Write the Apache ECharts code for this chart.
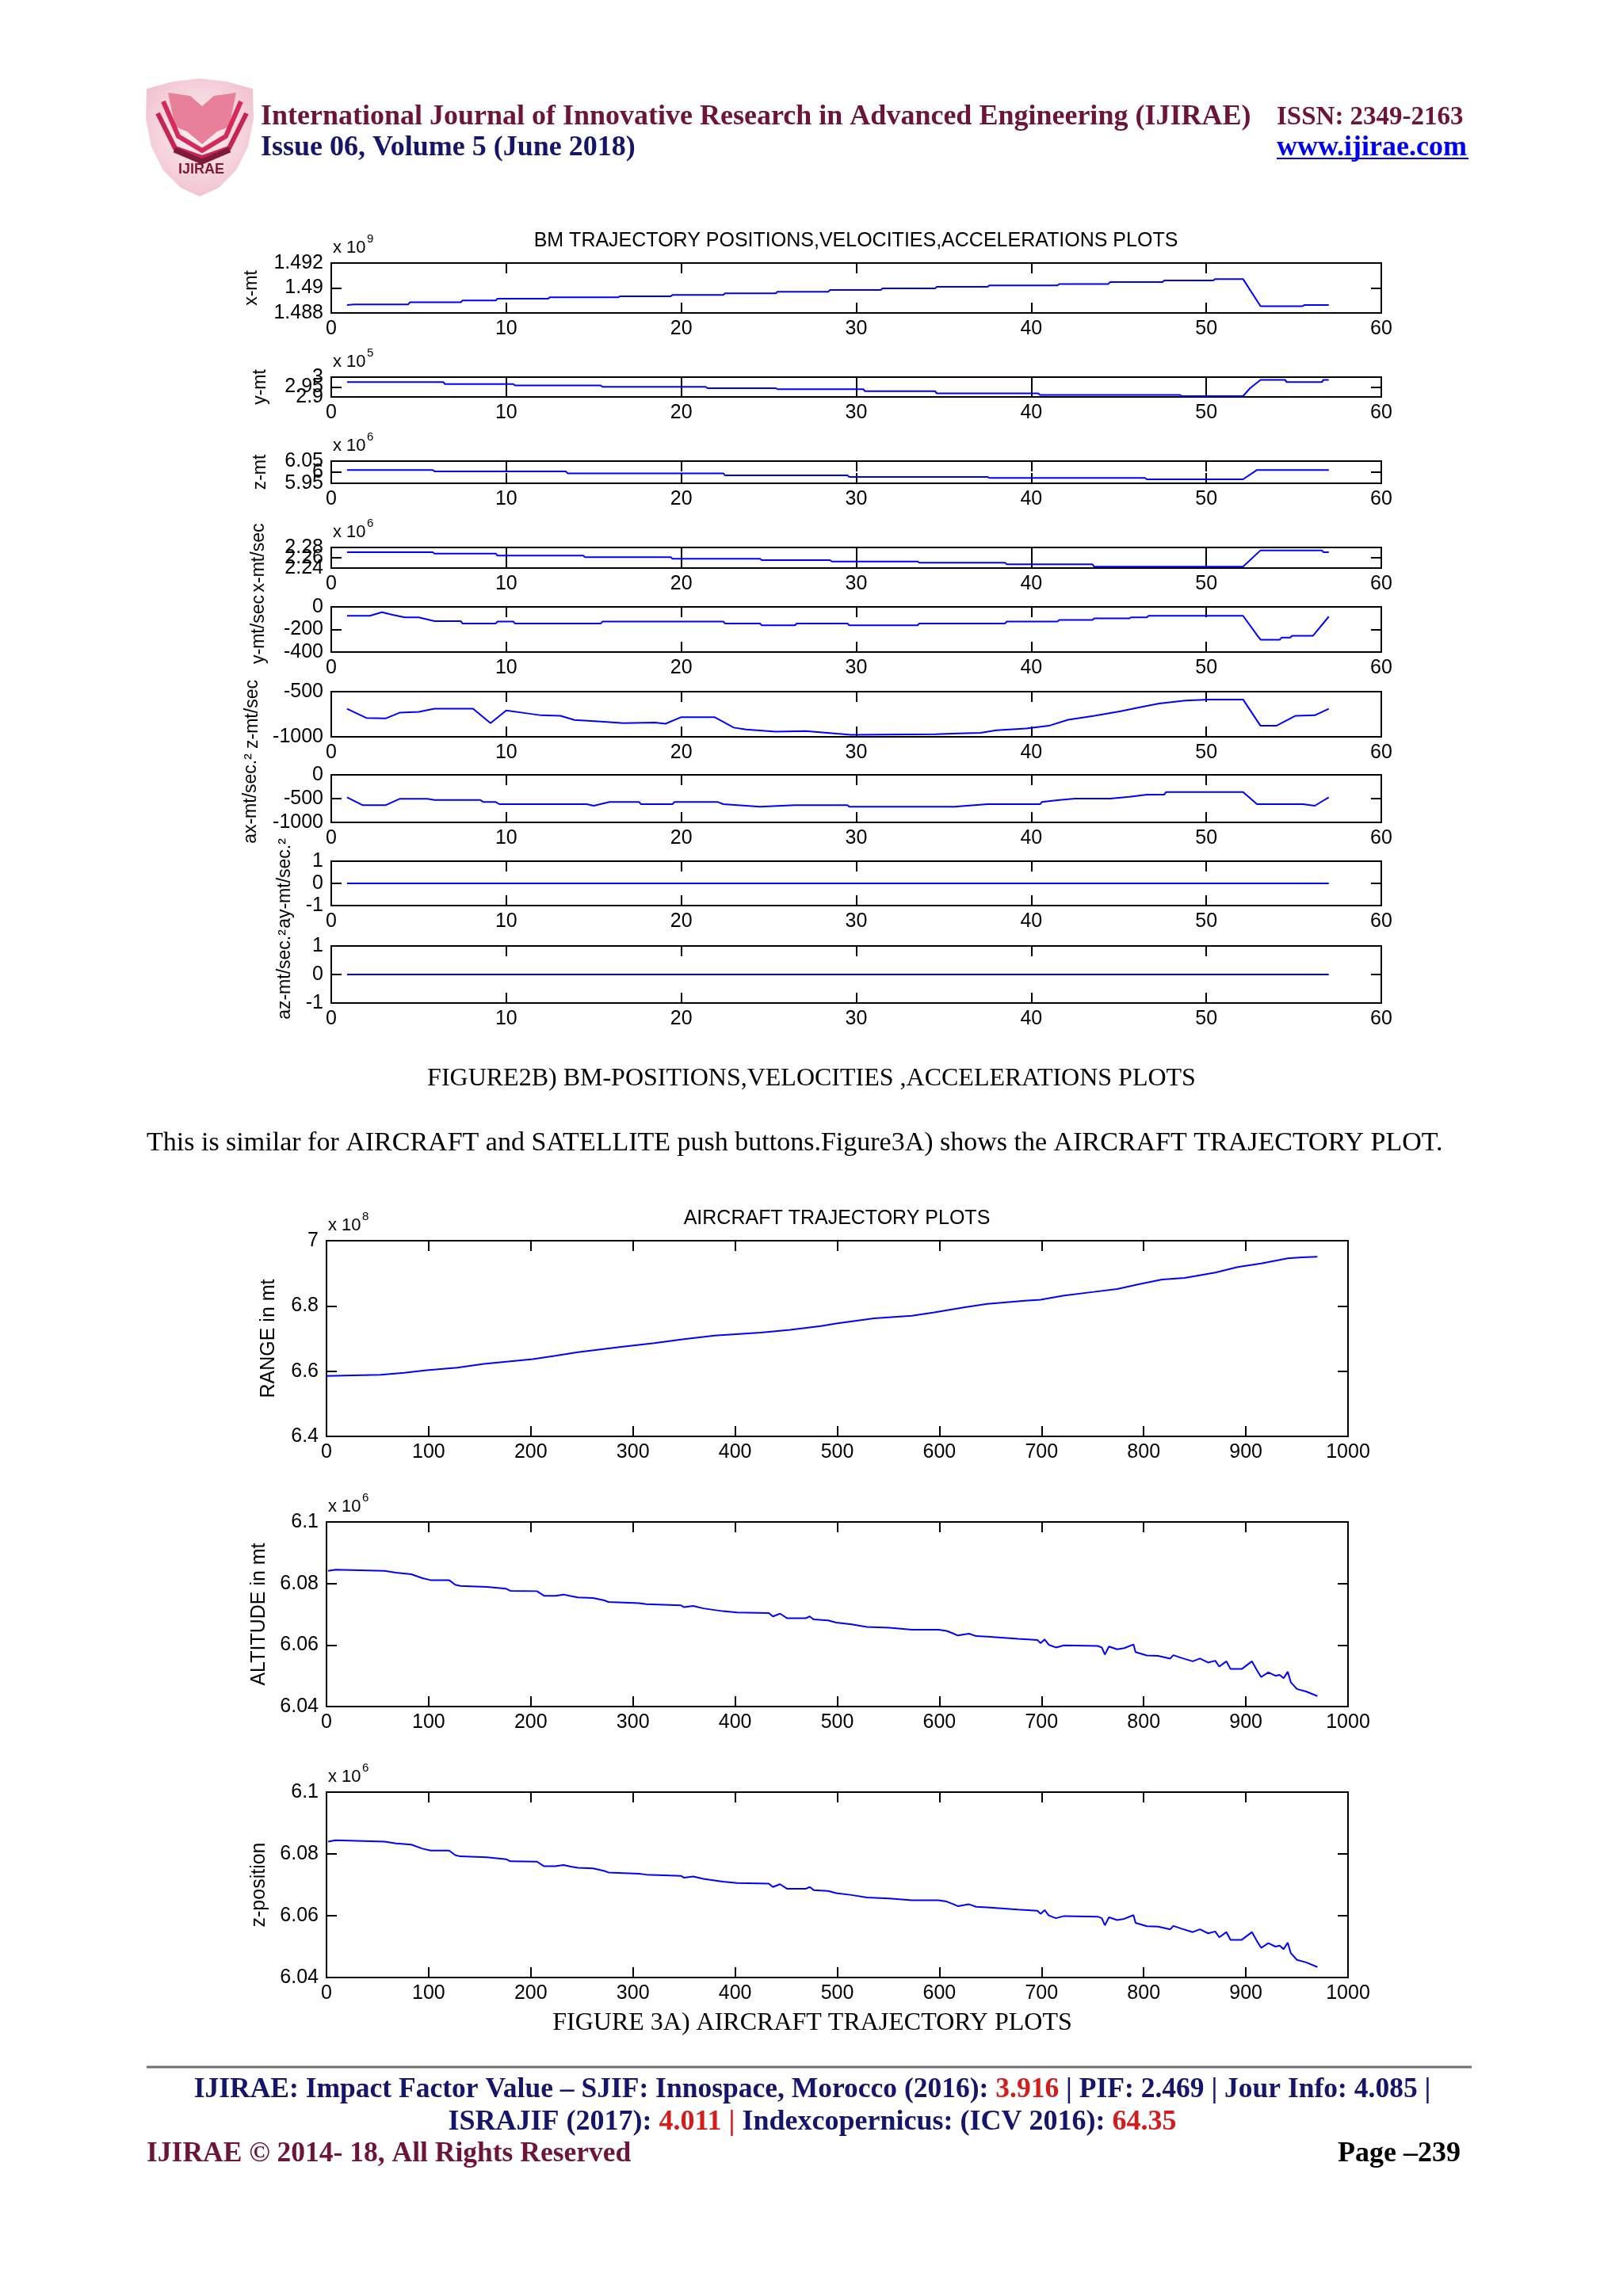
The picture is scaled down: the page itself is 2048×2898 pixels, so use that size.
<!DOCTYPE html>
<html><head><meta charset="utf-8">
<script src="https://cdn.jsdelivr.net/npm/echarts@6/dist/echarts.min.js"></script>
<style>html,body{margin:0;padding:0;background:#fff}#c{width:2048px;height:2898px}</style>
</head><body><div id="c"></div>
<script>
// ---------------- DATA ----------------
const bmTimeTicks = [0, 10, 20, 30, 40, 50, 60];
const xPosTicks = [1.488, 1.49, 1.492];      // x 10^9
const yPosTicks = [2.9, 2.95, 3];            // x 10^5
const zPosTicks = [5.95, 6, 6.05];           // x 10^6
const vxTicks = [2.24, 2.26, 2.28];          // x 10^6
const vyTicks = [-400, -200, 0];
const vzTicks = [-1000, -500];
const axTicks = [-1000, -500, 0];
const ayTicks = [-1, 0, 1];
const azTicks = [-1, 0, 1];

const bmXPos = [[0.9,1.48863],[1.3,1.48869],[4.4,1.48869],[4.5,1.48886],[7.4,1.48886],[7.5,1.48900],[9.4,1.48900],[9.5,1.48915],[12.4,1.48915],[12.5,1.48926],[16.4,1.48926],[16.5,1.48934],[19.4,1.48934],[19.5,1.48944],[22.4,1.48944],[22.5,1.48957],[25.4,1.48957],[25.5,1.48970],[28.4,1.48970],[28.5,1.48984],[31.4,1.48984],[31.5,1.48997],[34.5,1.48997],[34.6,1.49009],[37.5,1.49009],[37.6,1.49020],[41.5,1.49020],[41.6,1.49032],[44.4,1.49032],[44.5,1.49047],[47.5,1.49047],[47.6,1.49060],[50.4,1.49060],[50.5,1.49072],[52.1,1.49072],[53.1,1.48854],[55.5,1.48854],[55.6,1.48863],[57.0,1.48863]];
const bmYPos = [[0.9,2.975],[6.4,2.975],[6.5,2.965],[10.4,2.965],[10.5,2.958],[15.4,2.958],[15.5,2.951],[21.4,2.951],[21.5,2.944],[25.4,2.944],[25.5,2.939],[30.4,2.939],[30.5,2.929],[34.5,2.929],[34.6,2.918],[40.4,2.918],[40.5,2.910],[48.5,2.910],[48.6,2.904],[52.1,2.904],[52.5,2.944],[53.1,2.986],[54.5,2.986],[54.6,2.975],[56.6,2.975],[56.7,2.986],[57.0,2.986]];
const bmZPos = [[0.9,6.010],[5.8,6.010],[5.9,6.004],[13.4,6.004],[13.5,5.995],[22.4,5.995],[22.5,5.986],[29.5,5.986],[29.6,5.979],[37.5,5.979],[37.6,5.974],[46.5,5.974],[46.6,5.968],[52.1,5.968],[52.9,6.010],[57.0,6.010]];
const bmVx = [[0.9,2.2708],[5.8,2.2708],[5.9,2.2682],[9.4,2.2682],[9.5,2.2641],[14.4,2.2641],[14.5,2.2610],[19.4,2.2610],[19.5,2.2579],[24.5,2.2579],[24.6,2.2554],[28.5,2.2554],[28.6,2.2528],[33.5,2.2528],[33.6,2.2503],[38.5,2.2503],[38.6,2.2472],[43.5,2.2472],[43.6,2.2426],[52.1,2.2426],[53.1,2.2744],[56.6,2.2744],[56.7,2.2708],[57.0,2.2708]];
const bmVy = [[0.9,-79],[2.2,-79],[2.9,-47],[3.5,-70],[4.2,-93],[5.0,-93],[5.9,-126],[7.4,-126],[7.5,-147],[9.4,-147],[9.5,-130],[10.4,-130],[10.5,-147],[15.4,-147],[15.5,-130],[22.4,-130],[22.5,-147],[24.5,-147],[24.6,-163],[26.5,-163],[26.6,-147],[29.5,-147],[29.6,-163],[33.5,-163],[33.6,-147],[38.5,-147],[38.6,-130],[41.5,-130],[41.6,-116],[43.5,-116],[43.6,-102],[45.6,-102],[45.7,-93],[46.6,-93],[46.7,-79],[52.1,-79],[52.9,-250],[53.1,-291],[54.2,-291],[54.3,-272],[54.8,-272],[54.9,-256],[56.1,-256],[57.0,-86]];
const bmVz = [[0.9,-689],[2.0,-791],[3.1,-797],[3.9,-733],[5.0,-724],[5.9,-689],[8.1,-689],[9.1,-849],[10.0,-709],[11.1,-738],[12.0,-762],[13.1,-767],[13.9,-814],[15.4,-831],[16.7,-849],[18.5,-843],[19.1,-855],[20.0,-782],[21.9,-782],[23.0,-898],[23.7,-919],[25.4,-942],[27.1,-936],[28.9,-965],[29.7,-977],[34.5,-971],[35.8,-962],[37.1,-956],[38.0,-927],[39.7,-907],[41.0,-878],[42.1,-811],[43.6,-767],[45.1,-718],[46.2,-674],[47.3,-631],[48.8,-599],[50.1,-587],[52.1,-587],[53.1,-878],[54.0,-878],[55.1,-767],[56.2,-762],[57.0,-689]];
const bmAx = [[0.9,-472],[1.8,-639],[3.1,-639],[3.9,-506],[5.5,-506],[5.9,-528],[8.5,-528],[8.7,-572],[9.4,-572],[9.6,-617],[14.6,-617],[15.0,-650],[15.9,-572],[17.6,-572],[17.7,-617],[19.5,-617],[19.6,-572],[22.1,-572],[22.4,-617],[24.5,-672],[26.5,-639],[29.5,-639],[29.6,-672],[35.6,-672],[37.5,-617],[40.5,-617],[40.6,-572],[41.6,-528],[42.5,-500],[44.5,-500],[45.6,-461],[46.6,-417],[47.6,-417],[47.7,-361],[52.1,-361],[52.9,-617],[55.5,-617],[56.2,-650],[57.0,-472]];
const bmAy = [[0.9,0],[57.0,0]];
const bmAz = [[0.9,0],[57.0,0]];

const acTimeTicks = [0,100,200,300,400,500,600,700,800,900,1000];
const rangeTicks = [6.4, 6.6, 6.8, 7];       // x 10^8
const altTicks = [6.04, 6.06, 6.08, 6.1];    // x 10^6
const acRange = [[0,6.585],[53,6.589],[76,6.595],[98,6.603],[128,6.611],[154,6.622],[202,6.637],[224,6.647],[246,6.658],[287,6.674],[321,6.686],[350,6.698],[380,6.709],[425,6.718],[454,6.727],[484,6.738],[499,6.746],[536,6.762],[573,6.770],[595,6.780],[625,6.796],[647,6.806],[684,6.816],[699,6.819],[722,6.832],[751,6.843],[774,6.852],[796,6.867],[818,6.881],[840,6.886],[870,6.902],[892,6.919],[915,6.930],[941,6.946],[955,6.949],[970,6.951]];
const acAltitude = [[1.5,6.0841],[9,6.0845],[57,6.0841],[68,6.0835],[83,6.0830],[94,6.0817],[102,6.0811],[120,6.0811],[126,6.0796],[131,6.0792],[157,6.0789],[176,6.0783],[180,6.0776],[206,6.0775],[213,6.0760],[224,6.0760],[232,6.0764],[239,6.0759],[246,6.0755],[261,6.0753],[272,6.0745],[276,6.0740],[306,6.0736],[313,6.0733],[347,6.0729],[350,6.0723],[359,6.0727],[369,6.0719],[388,6.0710],[402,6.0706],[433,6.0704],[437,6.0693],[444,6.0702],[445,6.0703],[451,6.0687],[469,6.0687],[473,6.0693],[477,6.0683],[491,6.0680],[499,6.0673],[514,6.0667],[529,6.0659],[551,6.0656],[573,6.0650],[599,6.0650],[607,6.0646],[614,6.0637],[618,6.0631],[629,6.0637],[636,6.0629],[647,6.0627],[677,6.0620],[696,6.0616],[699,6.0606],[703,6.0618],[707,6.0601],[714,6.0592],[722,6.0599],[755,6.0597],[759,6.0592],[762,6.0569],[766,6.0595],[774,6.0586],[781,6.0590],[790,6.0602],[792,6.0577],[803,6.0566],[814,6.0565],[826,6.0556],[829,6.0567],[837,6.0558],[848,6.0547],[855,6.0556],[863,6.0543],[870,6.0549],[874,6.0530],[881,6.0547],[885,6.0522],[896,6.0522],[906,6.0547],[911,6.0517],[915,6.0496],[922,6.0511],[929,6.0500],[933,6.0503],[937,6.0492],[941,6.0513],[944,6.0479],[950,6.0457],[959,6.0449],[970,6.0434]];
const acZPosition = [[1.5,6.0840],[9,6.0844],[57,6.0840],[68,6.0834],[83,6.0830],[94,6.0817],[102,6.0811],[120,6.0811],[126,6.0796],[131,6.0792],[157,6.0789],[176,6.0783],[180,6.0776],[206,6.0775],[213,6.0760],[224,6.0760],[232,6.0764],[239,6.0759],[246,6.0755],[261,6.0753],[272,6.0745],[276,6.0740],[306,6.0736],[313,6.0733],[347,6.0729],[350,6.0723],[359,6.0727],[369,6.0719],[388,6.0710],[402,6.0706],[433,6.0704],[437,6.0693],[444,6.0702],[445,6.0703],[451,6.0687],[469,6.0687],[473,6.0693],[477,6.0683],[491,6.0680],[499,6.0673],[514,6.0667],[529,6.0659],[551,6.0656],[573,6.0650],[599,6.0650],[607,6.0646],[614,6.0637],[618,6.0631],[629,6.0637],[636,6.0629],[647,6.0627],[677,6.0620],[696,6.0616],[699,6.0606],[703,6.0618],[707,6.0601],[714,6.0592],[722,6.0599],[755,6.0597],[759,6.0592],[762,6.0569],[766,6.0595],[774,6.0586],[781,6.0590],[790,6.0602],[792,6.0577],[803,6.0566],[814,6.0565],[826,6.0556],[829,6.0567],[837,6.0558],[848,6.0547],[855,6.0556],[863,6.0543],[870,6.0549],[874,6.0530],[881,6.0547],[885,6.0522],[896,6.0522],[906,6.0547],[911,6.0517],[915,6.0496],[922,6.0511],[929,6.0500],[933,6.0503],[937,6.0492],[941,6.0513],[944,6.0479],[950,6.0457],[959,6.0449],[970,6.0434]];

// ---------------- LAYOUT ----------------
const BM_L = 418, BM_W = 1325, AC_L = 412, AC_W = 1289;
const panels = [
  {l:BM_L,w:BM_W,top:332,h:63,xt:bmTimeTicks,yt:xPosTicks,data:bmXPos,name:'x-mt',gap:89,exp:'9',nfs:23},
  {l:BM_L,w:BM_W,top:476,h:25,xt:bmTimeTicks,yt:yPosTicks,data:bmYPos,name:'y-mt',gap:78,exp:'5',nfs:23},
  {l:BM_L,w:BM_W,top:582,h:28,xt:bmTimeTicks,yt:zPosTicks,data:bmZPos,name:'z-mt',gap:78,exp:'6',nfs:23},
  {l:BM_L,w:BM_W,top:691,h:26,xt:bmTimeTicks,yt:vxTicks,data:bmVx,name:'x-mt/sec',gap:80,exp:'6',nfs:23},
  {l:BM_L,w:BM_W,top:766,h:57,xt:bmTimeTicks,yt:vyTicks,data:bmVy,name:'y-mt/sec',gap:80,nfs:23},
  {l:BM_L,w:BM_W,top:873,h:57,xt:bmTimeTicks,yt:vzTicks,data:bmVz,name:'z-mt/sec',gap:88,nfs:23},
  {l:BM_L,w:BM_W,top:978,h:60,xt:bmTimeTicks,yt:axTicks,data:bmAx,name:'ax-mt/sec.²',gap:90,nfs:23},
  {l:BM_L,w:BM_W,top:1087,h:56,xt:bmTimeTicks,yt:ayTicks,data:bmAy,name:'ay-mt/sec.²',gap:47,nfs:23},
  {l:BM_L,w:BM_W,top:1194,h:72,xt:bmTimeTicks,yt:azTicks,data:bmAz,name:'az-mt/sec.²',gap:47,nfs:23},
  {l:AC_L,w:AC_W,top:1566,h:247,xt:acTimeTicks,yt:rangeTicks,data:acRange,name:'RANGE in mt',gap:60,exp:'8',nfs:25},
  {l:AC_L,w:AC_W,top:1921,h:233,xt:acTimeTicks,yt:altTicks,data:acAltitude,name:'ALTITUDE in mt',gap:72,exp:'6',nfs:25},
  {l:AC_L,w:AC_W,top:2262,h:234,xt:acTimeTicks,yt:altTicks,data:acZPosition,name:'z-position',gap:72,exp:'6',nfs:25}
];

const SANS = '"Liberation Sans", Arial, sans-serif';
const SERIF = '"Liberation Serif", "Times New Roman", serif';
const fmt = v => String(+(+v).toFixed(6));
const step = t => +(t[1] - t[0]).toFixed(8);
const near = (a, b) => Math.abs(a - b) < 1e-9;

const grid = [], xAxis = [], yAxis = [], series = [], graphic = [];
const tick = {show:true, inside:true, length:13, lineStyle:{color:'#000', width:2}};
const lblBase = {show:true, color:'#000', fontSize:25, fontFamily:SANS, hideOverlap:false};
panels.forEach((p, i) => {
  grid.push({left:p.l, top:p.top, width:p.w, height:p.h, show:true, borderColor:'#000', borderWidth:2, backgroundColor:'rgba(0,0,0,0)'});
  const ymin = p.yt[0], ymax = p.yt[p.yt.length-1];
  const xb = {type:'value', gridIndex:i, min:p.xt[0], max:p.xt[p.xt.length-1], interval:step(p.xt),
    splitLine:{show:false}, axisLine:{show:false, onZero:false}, axisTick:tick};
  const yb = {type:'value', gridIndex:i, min:ymin, max:ymax, interval:step(p.yt),
    splitLine:{show:false}, axisLine:{show:false, onZero:false}, axisTick:tick};
  xAxis.push(Object.assign({}, xb, {position:'bottom', axisLabel:Object.assign({}, lblBase, {margin:8, formatter:fmt, showMinLabel:true, showMaxLabel:true})}));
  xAxis.push(Object.assign({}, xb, {position:'top', axisLabel:{show:false}}));
  // main left axis: end labels + name
  yAxis.push(Object.assign({}, yb, {position:'left', name:p.name, nameLocation:'middle', nameGap:p.gap, nameRotate:90,
    nameTextStyle:{color:'#000', fontSize:p.nfs, fontFamily:SANS},
    axisLabel:Object.assign({}, lblBase, {margin:10, showMinLabel:true, showMaxLabel:true,
      formatter: v => (near(v, ymin) || near(v, ymax)) ? fmt(v) : ''})}));
  yAxis.push(Object.assign({}, yb, {position:'right', axisLabel:{show:false}}));
  // second left axis: inner labels only (MATLAB draws overlapping labels too)
  yAxis.push(Object.assign({}, yb, {position:'left', axisTick:{show:false},
    axisLabel:Object.assign({}, lblBase, {margin:10, showMinLabel:false, showMaxLabel:false, formatter:fmt})}));
  series.push({type:'line', xAxisIndex:2*i, yAxisIndex:3*i, data:p.data, showSymbol:false, symbol:'none',
    lineStyle:{color:'#0000ff', width:2}, silent:true, animation:false, clip:true});
  if (p.exp) {
    graphic.push({type:'text', x:p.l+2, y:p.top-19, z:100, silent:true,
      style:{text:'x 10', fill:'#000', font:'22px '+SANS, textAlign:'left', align:'left', textVerticalAlign:'middle', verticalAlign:'middle'}});
    graphic.push({type:'text', x:p.l+45, y:p.top-30, z:100, silent:true,
      style:{text:p.exp, fill:'#000', font:'15px '+SANS, textAlign:'left', align:'left', textVerticalAlign:'middle', verticalAlign:'middle'}});
  }
});

function T(x, y, text, font, fill, align, extra) {
  return {type:'text', x:x, y:y, z:100, silent:true,
    style:Object.assign({text:text, font:font, fill:fill, textAlign:align||'left', align:align||'left',
      textVerticalAlign:'middle', verticalAlign:'middle'}, extra||{})};
}

// plot titles and captions
graphic.push(T(1080, 304, 'BM TRAJECTORY POSITIONS,VELOCITIES,ACCELERATIONS PLOTS', '25px '+SANS, '#000', 'center'));
graphic.push(T(1056, 1538, 'AIRCRAFT TRAJECTORY PLOTS', '25px '+SANS, '#000', 'center'));
graphic.push(T(1024, 1362, 'FIGURE2B) BM-POSITIONS,VELOCITIES ,ACCELERATIONS PLOTS', '32px '+SERIF, '#000', 'center'));
graphic.push(T(185, 1443, 'This is similar for AIRCRAFT and SATELLITE push buttons.Figure3A) shows the AIRCRAFT TRAJECTORY PLOT.', '34px '+SERIF, '#000', 'left'));
graphic.push(T(1025, 2554, 'FIGURE 3A) AIRCRAFT TRAJECTORY PLOTS', '32px '+SERIF, '#000', 'center'));

// header
const MAROON = '#6c1538', NAVY = '#15166b';
graphic.push(T(329, 148, 'International Journal of Innovative Research in Advanced Engineering (IJIRAE)', 'bold 36px '+SERIF, MAROON, 'left'));
graphic.push(T(1611, 148, 'ISSN: 2349-2163', 'bold 33px '+SERIF, MAROON, 'left'));
graphic.push(T(329, 187, 'Issue 06, Volume 5 (June 2018)', 'bold 36px '+SERIF, NAVY, 'left'));
graphic.push(T(1611, 187, 'www.ijirae.com', 'bold 36px '+SERIF, '#0000ee', 'left'));
graphic.push({type:'line', z:100, silent:true, shape:{x1:1611, y1:200, x2:1853, y2:200}, style:{stroke:'#0000ee', lineWidth:2}});

// logo
graphic.push({type:'polygon', z:90, silent:true,
  shape:{points:[[185,112],[218,103],[252,99],[286,103],[319,112],[320,150],[313,185],[298,215],[276,237],[252,248],[228,237],[206,215],[191,185],[184,150]]},
  style:{fill:{type:'radial', x:0.5, y:0.45, r:0.6, colorStops:[{offset:0, color:'#fdf2f5'},{offset:1, color:'#f1c3d0'}]}}});
graphic.push({type:'polygon', z:91, silent:true, shape:{points:[[212,117],[240,121],[255,134],[255,182],[236,166],[221,160]]}, style:{fill:'#e9809a'}});
graphic.push({type:'polygon', z:91, silent:true, shape:{points:[[298,117],[270,121],[255,134],[255,182],[274,166],[289,160]]}, style:{fill:'#e9809a'}});
graphic.push({type:'polyline', z:92, silent:true, shape:{points:[[206,128],[225,172],[255,190],[285,172],[304,128]]}, style:{stroke:'#d42b5c', lineWidth:6, fill:null}});
graphic.push({type:'polyline', z:92, silent:true, shape:{points:[[199,143],[221,187],[255,199],[289,187],[311,143]]}, style:{stroke:'#c52553', lineWidth:6, fill:null}});
graphic.push({type:'polyline', z:92, silent:true, shape:{points:[[220,189],[255,204],[290,189]]}, style:{stroke:'#7e1a3a', lineWidth:7, fill:null}});
graphic.push(T(254, 214, 'IJIRAE', 'bold 18px '+SANS, '#7e1a3a', 'center'));

// footer
graphic.push({type:'line', z:100, silent:true, shape:{x1:185, y1:2609, x2:1857, y2:2609}, style:{stroke:'#6f6f6f', lineWidth:3}});
const RED = '#d41c1c';
const richF = {n:{fill:NAVY, color:NAVY, font:'bold 35.5px '+SERIF}, r:{fill:RED, color:RED, font:'bold 35.5px '+SERIF}};
graphic.push(T(1025, 2638, '{n|IJIRAE: Impact Factor Value – SJIF: Innospace, Morocco (2016): }{r|3.916}{n| | PIF: 2.469 | Jour Info: 4.085 |}', 'bold 35.5px '+SERIF, NAVY, 'center', {rich:richF}));
graphic.push(T(1025, 2679, '{n|ISRAJIF (2017): }{r|4.011 |}{n| Indexcopernicus: (ICV 2016): }{r|64.35}', 'bold 36px '+SERIF, NAVY, 'center', {rich:{n:{fill:NAVY, color:NAVY, font:'bold 36px '+SERIF}, r:{fill:RED, color:RED, font:'bold 36px '+SERIF}}}));
graphic.push(T(185, 2719, 'IJIRAE © 2014- 18, All Rights Reserved', 'bold 35.5px '+SERIF, MAROON, 'left'));
graphic.push(T(1843, 2719, 'Page –239', 'bold 36px '+SERIF, '#000', 'right'));

const chart = echarts.init(document.getElementById('c'), null, {renderer:'canvas', width:2048, height:2898});
chart.setOption({
  backgroundColor:'#ffffff',
  animation:false,
  grid:grid, xAxis:xAxis, yAxis:yAxis, series:series, graphic:graphic
});
</script>
</body></html>
